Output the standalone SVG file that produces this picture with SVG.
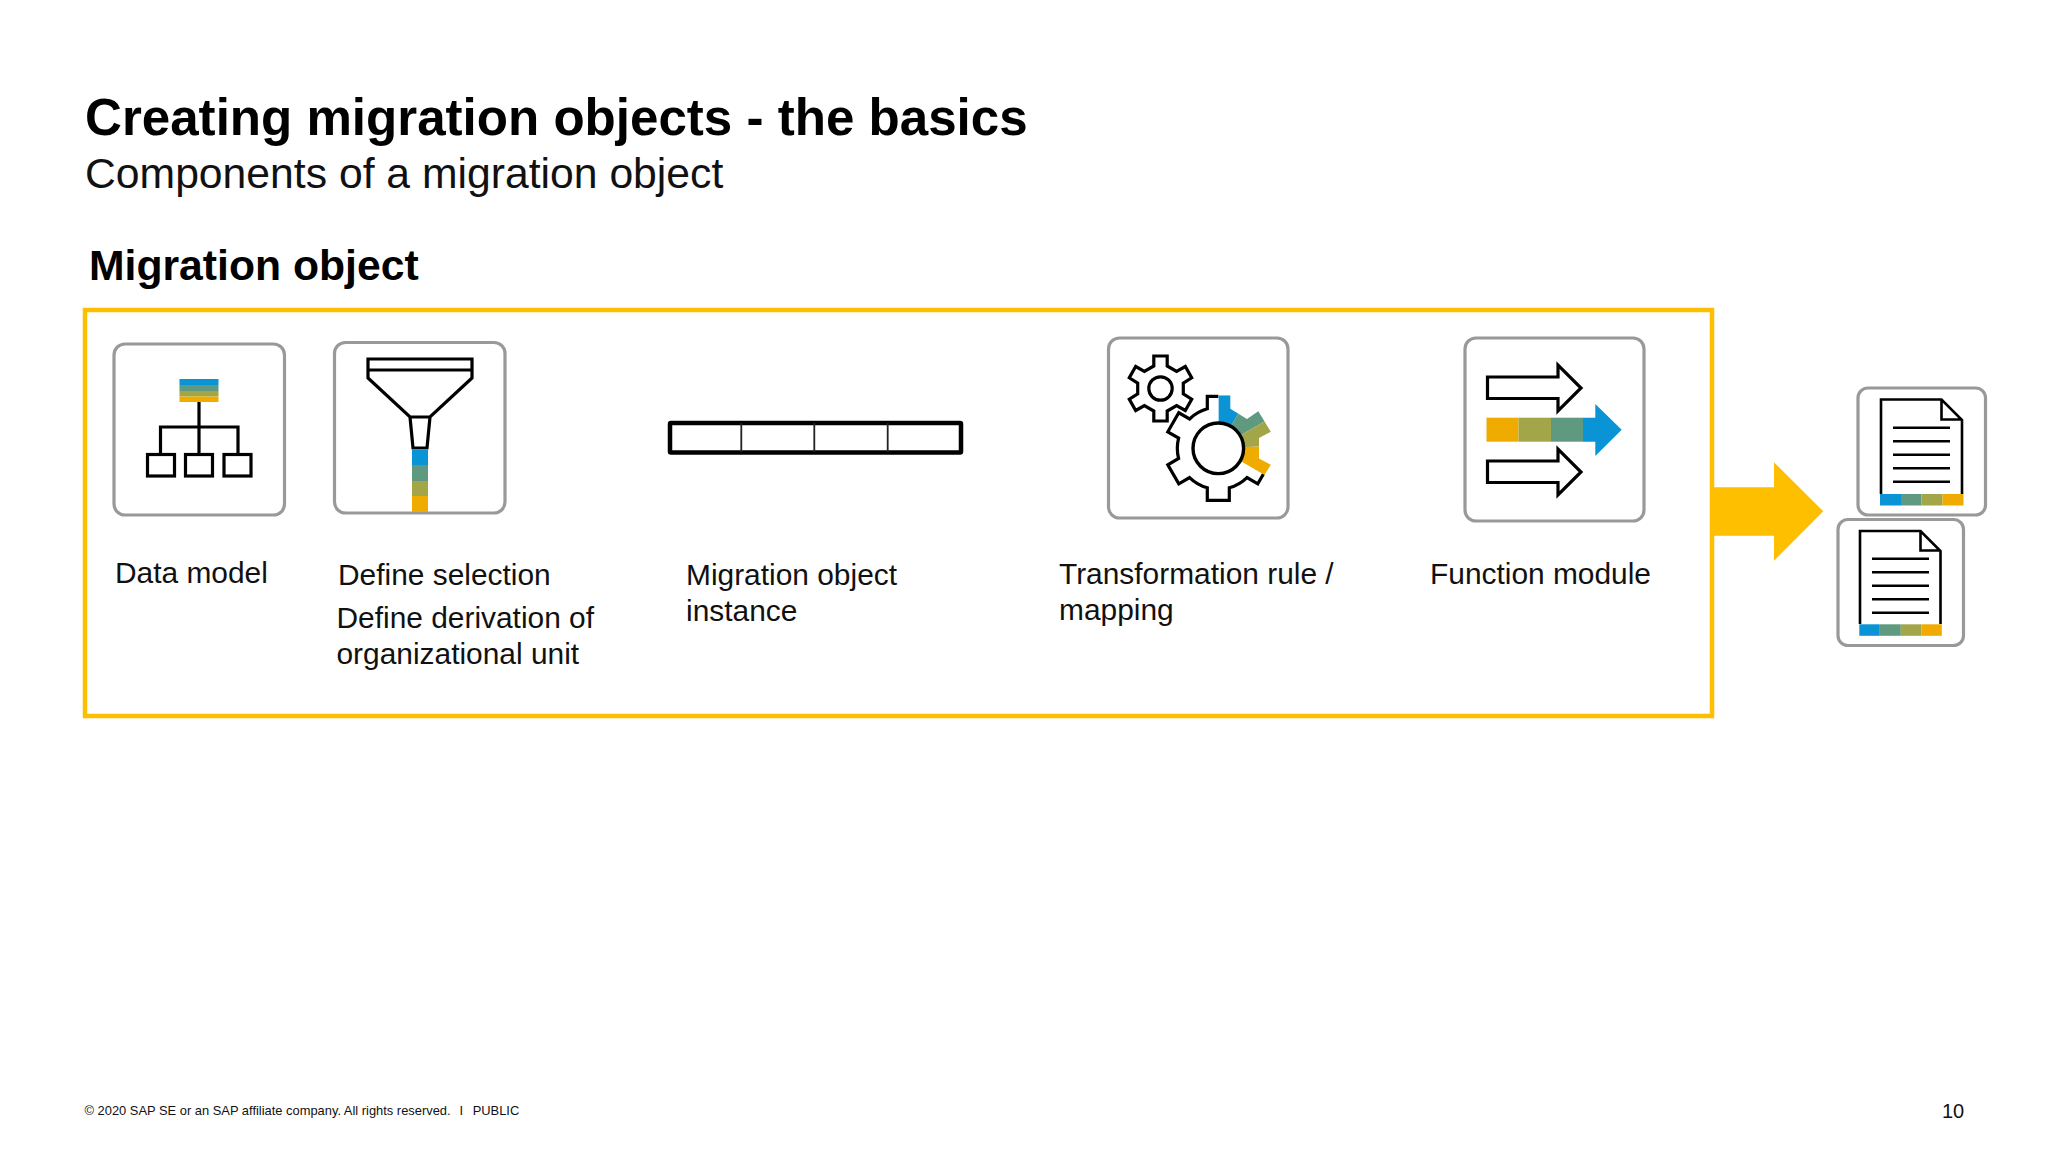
<svg xmlns="http://www.w3.org/2000/svg" width="2048" height="1152" viewBox="0 0 2048 1152">
<style>
.t{font-family:"Liberation Sans",Arial,sans-serif;fill:#111}
.h{font-weight:700;fill:#000}
.l{font-size:29.9px}
.box{fill:#fff;stroke:#999;stroke-width:3.200}
.k{fill:none;stroke:#000;stroke-width:3.200;stroke-linejoin:miter}
.k3{fill:none;stroke:#000;stroke-width:2.600}
.bl{fill:#0a94d6}.gr{fill:#5f9a80}.ol{fill:#a3a549}.or{fill:#f0ab00}
</style>
<defs>
<g id="doc-lines"><path class="k3" d="M0 0H57M0 13.5H57M0 27H57M0 40.5H57M0 54H57"/></g>
<clipPath id="gear-clip"><path d="M0 -53H12V-39.5L28.7 -29.3L40 -37L52.500 -16.500L40.700 -10.200V10.200L52.500 16.500L46 27L0 0Z"/></clipPath>
</defs>
<rect width="2048" height="1152" fill="#fff"/>
<text class="t h" x="85" y="134.500" font-size="51.100">Creating migration objects - the basics</text>
<text class="t" x="85" y="187.500" font-size="42.700">Components of a migration object</text>
<text class="t h" x="89" y="280" font-size="42.700">Migration object</text>
<rect id="frame" x="85" y="310" width="1627" height="406" fill="none" stroke="#fdbf00" stroke-width="4.500"/>

<g id="data-model">
<rect class="box" x="114" y="344" width="170.500" height="171" rx="11"/>
<rect class="bl" x="179.500" y="379" width="39" height="6"/><rect class="gr" x="179.500" y="385" width="39" height="6"/><rect class="ol" x="179.500" y="391" width="39" height="5.500"/><rect class="or" x="179.500" y="396.500" width="39" height="5.500"/>
<path class="k" d="M199 402V454M160.500 454V427H238V454"/>
<rect class="k" x="147.500" y="454.500" width="27" height="21.500"/><rect class="k" x="185.500" y="454.500" width="27" height="21.500"/><rect class="k" x="224" y="454.500" width="27" height="21.500"/>
<text class="t l" x="115" y="583">Data model</text>
</g>

<g id="define-selection">
<rect class="box" x="334.500" y="342.500" width="170.500" height="170.500" rx="11"/>
<rect class="bl" x="412" y="450" width="16" height="15"/><rect class="gr" x="412" y="465" width="16" height="16"/><rect class="ol" x="412" y="481" width="16" height="15"/><rect class="or" x="412" y="496" width="16" height="16"/>
<path class="k" d="M368 359H472V378L430 417H410L368 378ZM368 370H472M410 417L413 448H427L430 417"/>
<text class="t l" x="338" y="585">Define selection</text>
<text class="t l" x="336.500" y="628">Define derivation of</text>
<text class="t l" x="336.500" y="664">organizational unit</text>
</g>

<g id="instance">
<rect x="670" y="423" width="291" height="29.500" rx="1" fill="#fff" stroke="#000" stroke-width="4.500"/>
<path d="M741.300 423V452M814.300 423V452M887.700 423V452" fill="none" stroke="#222" stroke-width="1.800"/>
<text class="t l" x="686" y="585">Migration object</text>
<text class="t l" x="686" y="620.500">instance</text>
</g>

<g id="transformation">
<rect class="box" x="1108.500" y="338" width="179.500" height="180" rx="11"/>
<path class="k" transform="translate(1160.500 388.500)" d="M-6.700 -22.500V-32.500H6.700V-22.500L16.100 -17L24.800 -22L31.200 -10.700L22.800 -5.400V5.400L31.200 10.700L24.800 22L16.100 17L6.700 22.500V32.500H-6.700V22.500L-16.100 17L-24.800 22L-31.200 10.700L-22.800 5.400V-5.400L-31.200 -10.700L-24.800 -22L-16.100 -17Z"/>
<circle class="k" cx="1160.500" cy="388.500" r="11.700"/>
<g transform="translate(1218.300 448.300)">
<path fill="#fff" d="M-11 -39.500V-52H11V-39.500L28.700 -29.300L39.500 -35.500L50.500 -16.500L39.700 -10.200V10.200L50.500 16.500L39.500 35.500L28.700 29.300L11 39.500V52H-11V39.500L-28.700 29.300L-39.500 35.500L-50.500 16.500L-39.700 10.200V-10.200L-50.500 -16.500L-39.500 -35.500L-28.700 -29.300Z"/>
<g clip-path="url(#gear-clip)">
<path class="bl" d="M0 0V-70L35 -60.600Z"/><path class="gr" d="M0 0L35 -60.600L60.600 -35Z"/><path class="ol" d="M0 0L60.600 -35L70 -3Z"/><path class="or" d="M0 0L70 -3L60.600 35Z"/>
</g>
<path class="k" d="M45 26L39.500 35.500L28.700 29.300A41 41 0 0 1 11 39.500V52H-11V39.500A41 41 0 0 1 -28.700 29.300L-39.500 35.500L-50.500 16.500L-39.700 10.200A41 41 0 0 1 -39.700 -10.200L-50.500 -16.500L-39.500 -35.500L-28.700 -29.300A41 41 0 0 1 -11 -39.500V-52H0"/>
<circle cx="0" cy="0" r="25.300" fill="#fff" stroke="#000" stroke-width="3.400"/>
</g>
<text class="t l" x="1059" y="583.500">Transformation rule /</text>
<text class="t l" x="1059" y="619.500">mapping</text>
</g>

<g id="function-module">
<rect class="box" x="1465" y="338" width="179" height="183" rx="11"/>
<path class="k" d="M1487.500 377H1558V365L1581 388L1558 411V398.500H1487.500Z"/>
<path class="k" d="M1487.500 461H1558V449L1581 472L1558 495V482.500H1487.500Z"/>
<rect class="or" x="1486.500" y="417.700" width="32" height="24"/><rect class="ol" x="1518.500" y="417.700" width="32.500" height="24"/><rect class="gr" x="1551" y="417.700" width="32" height="24"/>
<path class="bl" d="M1583 417.700H1595.300V404L1621.700 429.700L1595.300 456V441.700H1583Z"/>
<text class="t l" x="1430" y="583.500">Function module</text>
</g>

<g id="connectors"><path d="M1712 487.300H1774V462.300L1823.300 511.300L1774 560.700V535.700H1712Z" fill="#fdbf00"/></g>

<g id="doc-1">
<rect class="box" x="1858" y="388" width="127.500" height="127" rx="10"/>
<path class="k3" d="M1881 494V399.500H1941.500L1962 420V494M1941.500 399.500V419.500H1962"/>
<use href="#doc-lines" x="1893" y="427.700"/>
<rect class="bl" x="1880" y="494" width="21" height="11.500"/><rect class="gr" x="1901" y="494" width="20.500" height="11.500"/><rect class="ol" x="1921.500" y="494" width="21" height="11.500"/><rect class="or" x="1942.500" y="494" width="21" height="11.500"/>
</g>
<g id="doc-2">
<rect class="box" x="1838" y="519.500" width="125.500" height="126" rx="10"/>
<path class="k3" d="M1860 624V531H1920.500L1940.500 551V624M1920.500 531V550.500H1940.500"/>
<use href="#doc-lines" x="1872" y="558.700"/>
<rect class="bl" x="1859.300" y="624.300" width="20.500" height="11.500"/><rect class="gr" x="1879.800" y="624.300" width="21" height="11.500"/><rect class="ol" x="1900.800" y="624.300" width="20.500" height="11.500"/><rect class="or" x="1921.300" y="624.300" width="20.500" height="11.500"/>
</g>

<text class="t" y="1115" font-size="12.900" xml:space="preserve"><tspan x="84.500">© 2020 SAP SE or an SAP affiliate company. All rights reserved.</tspan><tspan x="459.500">I</tspan><tspan x="472.700">PUBLIC</tspan></text>
<text class="t" x="1942" y="1118" font-size="20">10</text>
</svg>
